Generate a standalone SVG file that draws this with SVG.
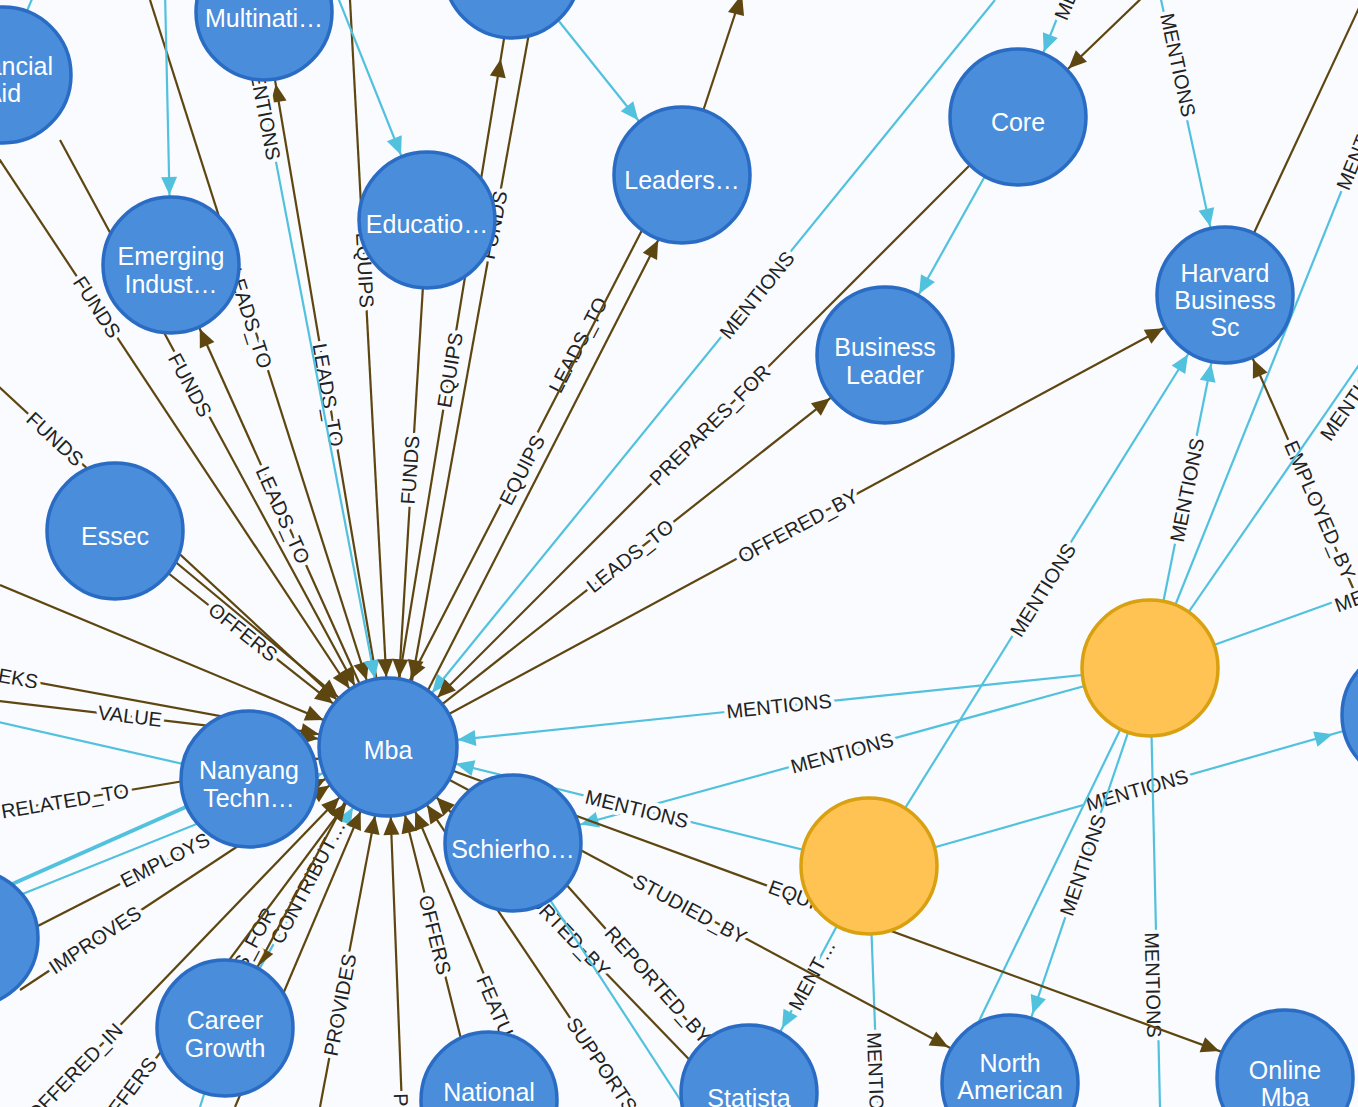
<svg xmlns="http://www.w3.org/2000/svg" width="1358" height="1107" viewBox="0 0 1358 1107">
<defs>
<marker id="ab" markerUnits="userSpaceOnUse" markerWidth="1" markerHeight="1" orient="auto" refX="0" refY="0" style="overflow:visible"><path d="M-70,0 L-88,-8 L-88,8 z" fill="#5e4611"/></marker>
<marker id="ac" markerUnits="userSpaceOnUse" markerWidth="1" markerHeight="1" orient="auto" refX="0" refY="0" style="overflow:visible"><path d="M-70,0 L-88,-8 L-88,8 z" fill="#52c1de"/></marker>
<style>
.b{stroke:#5e4611;stroke-width:2.2;fill:none}
.c{stroke:#52c1de;stroke-width:2.2;fill:none}
.ba{marker-end:url(#ab)}
.ca{marker-end:url(#ac)}
.l{font-family:"Liberation Sans",Arial,sans-serif;font-size:20px;fill:#222;text-anchor:middle;dominant-baseline:central;stroke:#f9fbfe;stroke-width:8;stroke-linejoin:round;paint-order:stroke}
.n circle{fill:#4a8ddb;stroke:#2a6cc4;stroke-width:3.5}
.y circle{fill:#fec352;stroke:#d9a010;stroke-width:3.5}
.n text{font-family:"Liberation Sans",Arial,sans-serif;font-size:25px;fill:#fff;text-anchor:middle;dominant-baseline:central}
</style>
</defs>
<rect width="1358" height="1107" fill="#f9fbfe"/>
<g id="connectors">
<line class="b ba" x1="-20" y1="130" x2="388" y2="747"/><text class="l" transform="translate(97,307) rotate(57)">FUNDS</text>
<line class="b ba" x1="60" y1="140" x2="388" y2="747"/><text class="l" transform="translate(190,385) rotate(61.6)">FUNDS</text>
<line class="b ba" x1="388" y1="747" x2="171" y2="265"/><text class="l" transform="translate(283,515) rotate(65.8)">LEADS_TO</text>
<line class="b ba" x1="150" y1="0" x2="388" y2="747"/><text class="l" transform="translate(250,318) rotate(72.3)">LEADS_TO</text>
<line class="b ba" x1="388" y1="747" x2="264" y2="15"/><text class="l" transform="translate(328,395) rotate(80.4)">LEADS_TO</text>
<line class="c ca" x1="245" y1="0" x2="388" y2="747"/><text class="l" transform="translate(264,108) rotate(79.2)">MENTIONS</text>
<line class="c ca" x1="163" y1="-100" x2="171" y2="265"/>
<line class="b ba" x1="350" y1="0" x2="390" y2="747"/><text class="l" transform="translate(365,270) rotate(87)">EQUIPS</text>
<line class="c ca" x1="335" y1="-10" x2="427" y2="220"/>
<line class="b ba" x1="427" y1="220" x2="395" y2="747"/><text class="l" transform="translate(410,470) rotate(-86)">FUNDS</text>
<line class="b ba" x1="388" y1="747" x2="512" y2="-10"/><text class="l" transform="translate(450,370) rotate(-80.7)">EQUIPS</text>
<line class="b ba" x1="535" y1="0" x2="400" y2="747"/><text class="l" transform="translate(494,225) rotate(-79)">FUNDS</text>
<line class="b ba" x1="400" y1="745" x2="690" y2="178"/><text class="l" transform="translate(578,345) rotate(-62.8)">LEADS_TO</text>
<line class="b ba" x1="672" y1="172" x2="378" y2="742"/><text class="l" transform="translate(522,470) rotate(-62.8)">EQUIPS</text>
<line class="b" x1="682" y1="175" x2="737" y2="8"/><path d="M742,-6 L728,12 L744,16 z" fill="#5e4611"/>
<line class="c ca" x1="550" y1="10" x2="682" y2="175"/>
<line class="c ca" x1="995" y1="0" x2="388" y2="747"/><text class="l" transform="translate(757,295) rotate(-51)">MENTIONS</text>
<line class="b ba" x1="1018" y1="117" x2="388" y2="747"/><text class="l" transform="translate(710,425) rotate(-45)">PREPARES_FOR</text>
<line class="b ba" x1="388" y1="747" x2="885" y2="355"/><text class="l" transform="translate(630,556) rotate(-38.3)">LEADS_TO</text>
<line class="b ba" x1="388" y1="747" x2="1225" y2="295"/><text class="l" transform="translate(798,526) rotate(-28.4)">OFFERED_BY</text>
<line class="c ca" x1="1018" y1="117" x2="885" y2="355"/>
<line class="b ba" x1="1150" y1="-10" x2="1018" y2="117"/>
<line class="c ca" x1="1080" y1="-40" x2="1018" y2="117"/><text class="l" transform="translate(1080,-30) rotate(-68)">MENTIONS</text>
<line class="c ca" x1="1160" y1="-5" x2="1225" y2="295"/><text class="l" transform="translate(1178,65) rotate(77.8)">MENTIONS</text>
<line class="b" x1="1225" y1="295" x2="1365" y2="-5"/>
<line class="c" x1="1380" y1="95" x2="1150" y2="668"/><text class="l" transform="translate(1362,140) rotate(-68)">MENTIONS</text>
<line class="c ca" x1="869" y1="866" x2="1225" y2="295"/><text class="l" transform="translate(1043,590) rotate(-58)">MENTIONS</text>
<line class="c ca" x1="1150" y1="668" x2="1225" y2="295"/><text class="l" transform="translate(1187,490) rotate(-78.6)">MENTIONS</text>
<line class="b ba" x1="1380" y1="650" x2="1225" y2="295"/><text class="l" transform="translate(1320,510) rotate(66.4)">EMPLOYED_BY</text>
<line class="c" x1="1150" y1="668" x2="1390" y2="320"/><text class="l" transform="translate(1355,395) rotate(-55)">MENTIONS</text>
<line class="c" x1="1150" y1="668" x2="1400" y2="578"/><text class="l" transform="translate(1385,588) rotate(-19.8)">MENTIONS</text>
<line class="c ca" x1="1150" y1="668" x2="388" y2="747"/><text class="l" transform="translate(779,706) rotate(-5.9)">MENTIONS</text>
<line class="c ca" x1="1150" y1="668" x2="513" y2="843"/><text class="l" transform="translate(842,753) rotate(-15.4)">MENTIONS</text>
<line class="c ca" x1="869" y1="866" x2="388" y2="747"/><text class="l" transform="translate(637,809) rotate(13.9)">MENTIONS</text>
<line class="c ca" x1="869" y1="866" x2="1400" y2="715"/><text class="l" transform="translate(1137,790) rotate(-15.9)">MENTIONS</text>
<line class="c ca" x1="1150" y1="668" x2="1010" y2="1080"/><text class="l" transform="translate(1083,865) rotate(-71.2)">MENTIONS</text>
<line class="c" x1="1150" y1="668" x2="965" y2="1050"/>
<line class="c" x1="1150" y1="668" x2="1160" y2="1107"/><text class="l" transform="translate(1153,985) rotate(88.6)">MENTIONS</text>
<line class="c" x1="869" y1="866" x2="878" y2="1107"/><text class="l" transform="translate(876,1085) rotate(87.8)">MENTIONS</text>
<line class="c ca" x1="869" y1="866" x2="749" y2="1090"/><text class="l" transform="translate(812,975) rotate(-61.8)">MENT…</text>
<line class="b ba" x1="388" y1="747" x2="1285" y2="1075"/><text class="l" transform="translate(805,899) rotate(20.1)">EQUIPS</text>
<line class="b ba" x1="388" y1="747" x2="1010" y2="1080"/><text class="l" transform="translate(690,909) rotate(28.2)">STUDIED_BY</text>
<line class="b ba" x1="540" y1="855" x2="749" y2="1090"/><text class="l" transform="translate(658,985) rotate(48.4)">REPORTED_BY</text>
<line class="b ba" x1="735" y1="1107" x2="388" y2="747"/><text class="l" transform="translate(555,920) rotate(46)">REPORTED_BY</text>
<line class="c" x1="513" y1="843" x2="685" y2="1107"/>
<line class="b ba" x1="630" y1="1107" x2="388" y2="747"/><text class="l" transform="translate(602,1065) rotate(56.1)">SUPPORTS</text>
<line class="b ba" x1="540" y1="1107" x2="388" y2="747"/><text class="l" transform="translate(503,1025) rotate(67.1)">FEATURES</text>
<line class="b ba" x1="478" y1="1107" x2="388" y2="747"/><text class="l" transform="translate(435,935) rotate(76)">OFFERS</text>
<line class="b ba" x1="402" y1="1107" x2="388" y2="747"/><text class="l" transform="translate(401,1100) rotate(88)">P</text>
<line class="b ba" x1="320" y1="1107" x2="388" y2="747"/><text class="l" transform="translate(340,1005) rotate(-79.3)">PROVIDES</text>
<line class="c ca" x1="225" y1="1028" x2="388" y2="747"/><text class="l" transform="translate(308,882) rotate(-62)">CONTRIBUT…</text>
<line class="b ba" x1="375" y1="745" x2="225" y2="1028"/><text class="l" transform="translate(232,980) rotate(-62)">PREPARES_FOR</text>
<line class="b ba" x1="0" y1="1150" x2="388" y2="747"/><text class="l" transform="translate(75,1072) rotate(-46)">OFFERED_IN</text>
<line class="b ba" x1="110" y1="1120" x2="388" y2="747"/><text class="l" transform="translate(128,1092) rotate(-53)">OFFERS</text>
<line class="b ba" x1="235" y1="1107" x2="388" y2="747"/>
<line class="c" x1="200" y1="1107" x2="225" y2="1028"/>
<line class="b ba" x1="20" y1="990" x2="388" y2="747"/><text class="l" transform="translate(95,940) rotate(-33.4)">IMPROVES</text>
<line class="b ba" x1="30" y1="930" x2="388" y2="747"/><text class="l" transform="translate(165,860) rotate(-27)">EMPLOYS</text>
<line class="c" x1="10" y1="885" x2="249" y2="779" style="stroke-width:4"/>
<line class="c ca" x1="20" y1="895" x2="388" y2="747"/>
<line class="b ba" x1="-20" y1="815" x2="388" y2="747"/><text class="l" transform="translate(65,801) rotate(-9.5)">RELATED_TO</text>
<line class="b ba" x1="-10" y1="700" x2="388" y2="747"/><text class="l" transform="translate(130,716) rotate(6.7)">VALUE</text>
<line class="b ba" x1="-30" y1="670" x2="388" y2="747"/><text class="l" transform="translate(5,676) rotate(10.4)">SEEKS</text>
<line class="c" x1="-10" y1="720" x2="249" y2="779"/>
<line class="b ba" x1="0" y1="585" x2="388" y2="747"/>
<line class="b ba" x1="115" y1="531" x2="388" y2="747"/><text class="l" transform="translate(243,632) rotate(38.4)">OFFERS</text>
<line class="b ba" x1="125" y1="520" x2="392" y2="742"/>
<line class="b ba" x1="-30" y1="360" x2="388" y2="747"/><text class="l" transform="translate(55,439) rotate(42.8)">FUNDS</text>
<line class="c" x1="0" y1="75" x2="40" y2="-20"/>
</g>
<g id="n-mba" class="n"><circle cx="388" cy="747" r="69"/><text x="388" y="750">Mba</text></g>
<g id="n-nanyang" class="n"><circle cx="249" cy="779" r="68"/><text x="249" y="770">Nanyang</text><text x="249" y="798">Techn…</text></g>
<g id="n-schierho" class="n"><circle cx="513" cy="843" r="68"/><text x="513" y="849">Schierho…</text></g>
<g id="n-essec" class="n"><circle cx="115" cy="531" r="68"/><text x="115" y="536">Essec</text></g>
<g id="n-emerging" class="n"><circle cx="171" cy="265" r="68"/><text x="171" y="256">Emerging</text><text x="171" y="284">Indust…</text></g>
<g id="n-education" class="n"><circle cx="427" cy="220" r="68"/><text x="427" y="224">Educatio…</text></g>
<g id="n-multinational" class="n"><circle cx="264" cy="12" r="68"/><text x="264" y="18">Multinati…</text></g>
<g id="n-top" class="n"><circle cx="512" cy="-30" r="68"/></g>
<g id="n-leaders" class="n"><circle cx="682" cy="175" r="68"/><text x="682" y="180">Leaders…</text></g>
<g id="n-core" class="n"><circle cx="1018" cy="117" r="68"/><text x="1018" y="122">Core</text></g>
<g id="n-bizleader" class="n"><circle cx="885" cy="355" r="68"/><text x="885" y="347">Business</text><text x="885" y="375">Leader</text></g>
<g id="n-harvard" class="n"><circle cx="1225" cy="295" r="68"/><text x="1225" y="273">Harvard</text><text x="1225" y="300">Business</text><text x="1225" y="327">Sc</text></g>
<g id="n-finaid" class="n"><circle cx="3" cy="75" r="68"/><text x="3" y="66">Financial</text><text x="3" y="93">Aid</text></g>
<g id="n-left" class="n"><circle cx="-30" cy="938" r="68"/><text x="-10" y="960">…</text></g>
<g id="n-career" class="n"><circle cx="225" cy="1028" r="68"/><text x="225" y="1020">Career</text><text x="225" y="1048">Growth</text></g>
<g id="n-national" class="n"><circle cx="489" cy="1100" r="68"/><text x="489" y="1092">National</text></g>
<g id="n-statista" class="n"><circle cx="749" cy="1093" r="68"/><text x="749" y="1098">Statista</text></g>
<g id="n-northam" class="n"><circle cx="1010" cy="1083" r="68"/><text x="1010" y="1063">North</text><text x="1010" y="1090">American</text></g>
<g id="n-onlinemba" class="n"><circle cx="1285" cy="1078" r="68"/><text x="1285" y="1070">Online</text><text x="1285" y="1097">Mba</text></g>
<g id="n-right" class="n"><circle cx="1410" cy="715" r="68"/></g>
<g id="n-y1" class="y"><circle cx="1150" cy="668" r="68"/></g>
<g id="n-y2" class="y"><circle cx="869" cy="866" r="68"/></g>
</svg>
